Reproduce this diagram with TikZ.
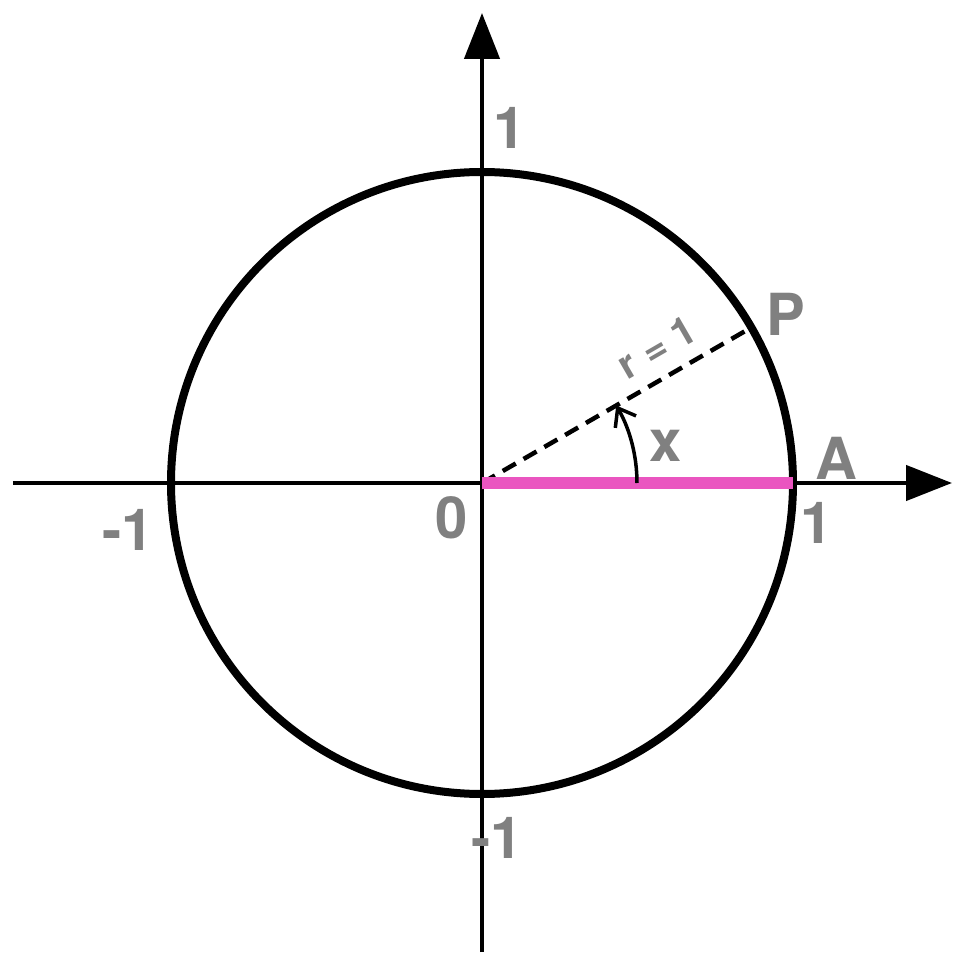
\documentclass[tikz,border=0pt]{standalone}
\usepackage{fontspec}
\setmainfont{TeX Gyre Heros}
\usetikzlibrary{arrows.meta}
\definecolor{labgray}{RGB}{128,128,128}
\definecolor{segpink}{RGB}{234,85,192}

\begin{document}
\begin{tikzpicture}[x=1pt,y=1pt]
  \tikzstyle{axis}=[line width=4.5pt,-{Triangle[length=46pt,width=35pt]}]
  \tikzstyle{lab}=[text=labgray,inner sep=0pt,font=\fontsize{58}{58}\selectfont\bfseries]
  \tikzstyle{smalllab}=[text=labgray,inner sep=0pt,font=\fontsize{40}{40}\selectfont\bfseries]
  \useasboundingbox (-482,-483) rectangle (484,483);
  % points
  \coordinate (O) at (0,0);
  \coordinate (A) at (311,0);
  \coordinate (P) at (30:311);
  \coordinate (xl) at (-469,0);
  \coordinate (xr) at (470,0);
  \coordinate (yb) at (0,-469);
  \coordinate (yt) at (0,470);
  % axes and circle
  \draw[axis] (xl) -- (xr);
  \draw[axis] (yb) -- (yt);
  \draw[line width=8pt] (O) circle (311);
  \draw[line width=4.5pt,dash pattern=on 15pt off 9pt] (O) -- (P);
  \draw[segpink,line width=12pt] (O) -- (A);
  % angle
  \draw[line width=3.5pt,-{Straight Barb[length=16pt,width=24pt]}] (155,0) arc[start angle=0,end angle=30,radius=155];
  % labels
  \node[lab] (ytop) at (28,355) {1};
  \node[lab] (ybot) at (15,-355) {-1};
  \node[lab] (xleft) at (-354,-47) {-1};
  \node[lab] (xright) at (335,-40) {1};
  \node[lab] (orig) at (-30,-35) {0};
  \node[lab] (lblA) at (354,25) {A};
  \node[lab] (lblP) at (304,169) {P};
  \node[lab] (lblx) at (184,37) {x};
  \node[smalllab,rotate=30] (lblr) at (175,136) {r = 1};
\end{tikzpicture}
\end{document}
